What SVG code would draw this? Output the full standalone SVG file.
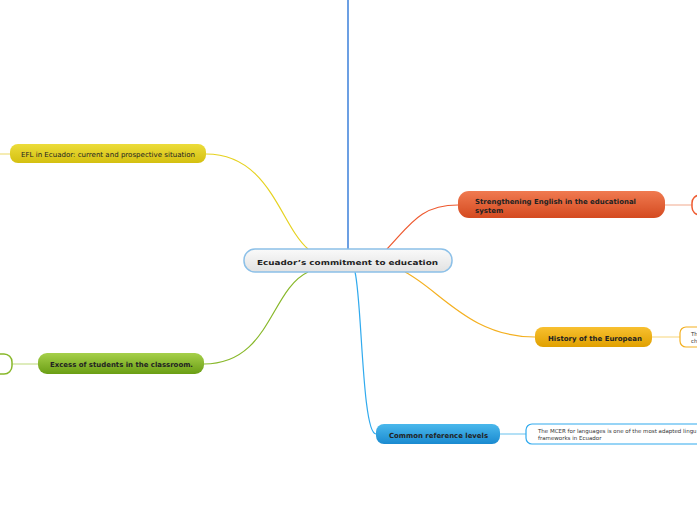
<svg xmlns="http://www.w3.org/2000/svg" width="697" height="520" viewBox="0 0 697 520">
<style>
text{font-family:"DejaVu Sans",Verdana,sans-serif;font-weight:bold;font-size:7px;fill:#222}
.sm{font-weight:normal;font-size:5.5px;fill:#333}
.c path{fill:none;stroke-width:1.2}
</style>
<defs>
<linearGradient id="gc" x1="0" y1="0" x2="0" y2="1"><stop offset="0" stop-color="#fafafa"/><stop offset="1" stop-color="#e2e2e2"/></linearGradient>
<linearGradient id="gy" x1="0" y1="0" x2="0" y2="1"><stop offset="0" stop-color="#ecdc3a"/><stop offset="1" stop-color="#d4c010"/></linearGradient>
<linearGradient id="gg" x1="0" y1="0" x2="0" y2="1"><stop offset="0" stop-color="#a6d04a"/><stop offset="1" stop-color="#6a9e14"/></linearGradient>
<linearGradient id="gr" x1="0" y1="0" x2="0" y2="1"><stop offset="0" stop-color="#f07a50"/><stop offset="1" stop-color="#d44a20"/></linearGradient>
<linearGradient id="ga" x1="0" y1="0" x2="0" y2="1"><stop offset="0" stop-color="#f8c030"/><stop offset="1" stop-color="#e0a000"/></linearGradient>
<linearGradient id="gb" x1="0" y1="0" x2="0" y2="1"><stop offset="0" stop-color="#4ab8ec"/><stop offset="1" stop-color="#1a8ad0"/></linearGradient>
</defs>
<g class="c" id="connectors">
<path d="M348 0V249" stroke="#0a60d0" stroke-width="1.6"/>
<path d="M308 249C280 225 270 154 206 154" stroke="#e6d220"/>
<path d="M0 154H10" stroke="#eee080"/>
<path d="M308 272C270 290 270 364 204 364" stroke="#88b82a"/>
<path d="M12 364H38" stroke="#c8e090"/>
<path d="M387 249C410 225 420 205 458 205" stroke="#ee5a30"/>
<path d="M665 205H692" stroke="#f4b8a0"/>
<path d="M405 272C440 290 470 337 535 337" stroke="#f4b020"/>
<path d="M652 337H680" stroke="#f8dc90"/>
<path d="M355 272C362 300 362 434 376 434" stroke="#30aaee"/>
<path d="M500 434H526" stroke="#80ccf0"/>
</g>
<g id="center"><rect x="244" y="249" width="208" height="23" rx="11" fill="url(#gc)" stroke="#8cc0e8" stroke-width="1.5"/><text x="257" y="264.5" font-size="10" textLength="181" lengthAdjust="spacingAndGlyphs">Ecuador’s commitment to education</text></g>
<g id="efl"><rect x="10" y="144" width="196" height="19" rx="8" fill="url(#gy)"/><text x="21" y="156.5" style="font-weight:normal;font-size:7px" textLength="174" lengthAdjust="spacingAndGlyphs">EFL in Ecuador: current and prospective situation</text></g>
<g id="excess"><rect x="38" y="353" width="166" height="21" rx="9" fill="url(#gg)"/><text x="50" y="367" textLength="143" lengthAdjust="spacingAndGlyphs">Excess of students in the classroom.</text></g>
<g id="excess-child"><rect x="-20" y="354" width="32" height="20" rx="8" fill="#fff" stroke="#88b82a" stroke-width="1.5"/></g>
<g id="strength"><rect x="458" y="191" width="207" height="27" rx="11" fill="url(#gr)"/><text x="475" y="203.5" textLength="161" lengthAdjust="spacingAndGlyphs">Strengthening English in the educational</text><text x="475" y="212.5">system</text></g>
<g id="strength-child"><rect x="692" y="195" width="30" height="20" rx="8" fill="#fff" stroke="#ee5a30" stroke-width="1.5"/></g>
<g id="history"><rect x="535" y="327" width="117" height="20" rx="8" fill="url(#ga)"/><text x="548" y="340.5" textLength="94" lengthAdjust="spacingAndGlyphs">History of the European</text></g>
<g id="history-child"><rect x="680" y="327" width="40" height="20" rx="6" fill="#fff" stroke="#f4b020" stroke-width="1.2"/><text class="sm" x="691" y="335.5">Th</text><text class="sm" x="691" y="342.5">ch</text></g>
<g id="common"><rect x="376" y="424" width="124" height="20" rx="8" fill="url(#gb)"/><text x="389" y="437.5" textLength="99" lengthAdjust="spacingAndGlyphs">Common reference levels</text></g>
<g id="common-child"><rect x="526" y="424" width="200" height="20" rx="6" fill="#fff" stroke="#30aaee" stroke-width="1.2"/><text class="sm" x="538" y="432.5">The MCER for languages is one of the most adapted lingu</text><text class="sm" x="538" y="439.5">frameworks in Ecuador</text></g>
</svg>
